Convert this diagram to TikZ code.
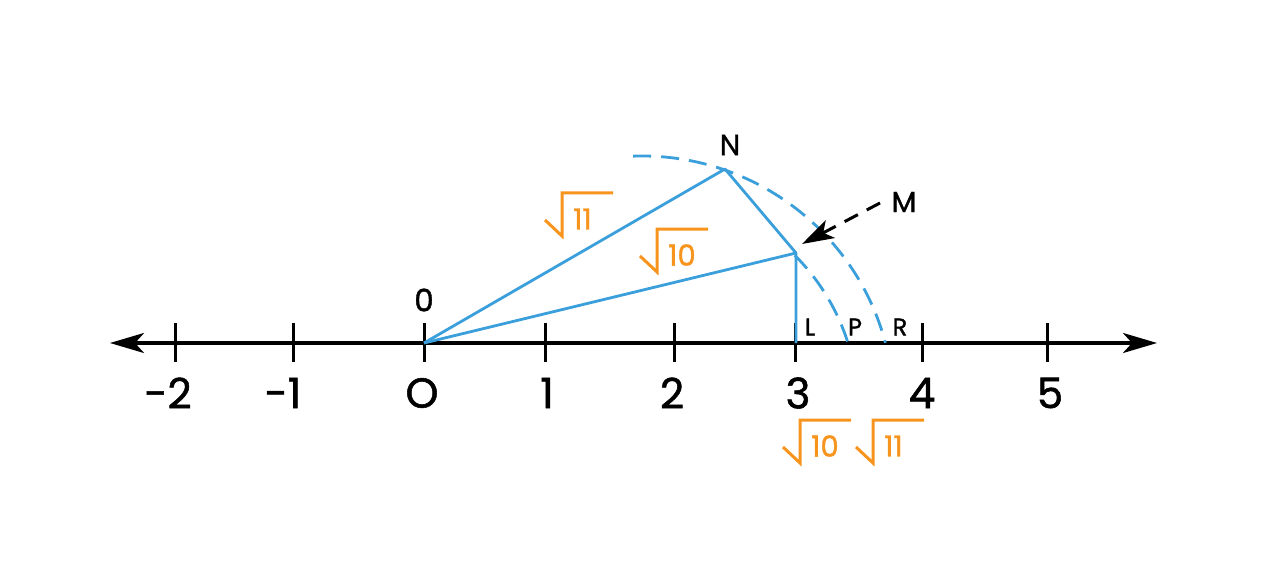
\documentclass[tikz,border=0pt]{standalone}
\usepackage{fontspec}
\setmainfont{Poppins}[FakeBold=1.3]
\usetikzlibrary{arrows.meta}
\definecolor{cblue}{HTML}{3A9FDB}
\definecolor{corange}{HTML}{F7941D}
\tikzset{
  axisline/.style={line width=3.4pt, black},
  tickline/.style={line width=3pt, black},
  geo/.style={line width=2.8pt, cblue},
  arcline/.style={line width=2.8pt, cblue, dash pattern=on 18pt off 10pt},
  numlab/.style={font=\fontsize{42}{42}\selectfont, inner sep=0pt},
  ptlab/.style={font=\fontsize{29}{29}\selectfont, inner sep=0pt},
  smlab/.style={font=\fontsize{24}{24}\selectfont, inner sep=0pt},
  radline/.style={line width=3pt, corange, line join=miter},
  rtext/.style={font=\fontsize{29}{29}\selectfont, text=corange, inner sep=0pt},
  rad/.pic={
    \draw[radline] (-17,-16) -- (0,0) -- (0,-43) -- (51,-43);
    \node[rtext, anchor=west] (-t) at (11,-17) {#1};
  }
}
\begin{document}
\begin{tikzpicture}[x=1pt,y=-1pt]
\useasboundingbox (0,0) rectangle (1284,588);
% axis
\coordinate (AL) at (110,343);
\coordinate (AR) at (1157,343);
\draw[axisline, {Stealth[length=34pt,width=20pt,inset=9pt]}-{Stealth[length=34pt,width=20pt,inset=9pt]}] (AL) -- (AR);
% ticks and labels
\foreach \x/\lab/\lx/\nm in {175/-2/168/m2, 293/-1/283/m1, 424/O/422/o, 545/1/547/one, 674/2/672/two, 795/3/798/three, 922/4/922/four, 1047/5/1050/five}{
  \coordinate (t\nm a) at (\x,323);
  \coordinate (t\nm b) at (\x,362);
  \draw[tickline] (t\nm a) -- (t\nm b);
  \node[numlab] (n\nm) at (\lx,393) {\lab};
}
% points
\coordinate (O) at (424,343);
\coordinate (N) at (725,169);
\coordinate (M) at (796,253);
\coordinate (L) at (796,343);
% arcs
\coordinate (C) at (642,408);
\draw[arcline] ([shift={(-92:252)}]C) arc[start angle=-92, end angle=-15, radius=252] coordinate (R);
\draw[arcline] ([shift={(-45:216)}]C) arc[start angle=-45, end angle=-17.5, radius=216] coordinate (P);
% triangles
\draw[geo, line join=round] (O) -- (N) -- (M) -- (L);
\draw[geo] (O) -- (M);
% labels
\node[smlab, font=\fontsize{31}{31}\selectfont] (zero) at (424,300) {0};
\node[ptlab] (Nl) at (730,145) {N};
\node[ptlab] (Ml) at (904,202) {M};
\node[smlab] (Ll) at (810,327) {L};
\node[smlab] (Pl) at (855,327) {P};
\node[smlab] (Rl) at (900,327) {R};
% M pointer
\coordinate (Ms) at (880,203);
\coordinate (Mt) at (802,244);
\draw[line width=3pt, black, dash pattern=on 15pt off 10pt, -{Stealth[length=32pt,width=20pt,inset=8pt]}] (Ms) -- (Mt);
% radicals
\pic (r11a) at (562,236) {rad={11}};
\pic (r10a) at (657,272) {rad={10}};
\pic (r10b) at (800,463) {rad={10}};
\pic (r11b) at (873,463) {rad={11}};
\end{tikzpicture}
\end{document}
